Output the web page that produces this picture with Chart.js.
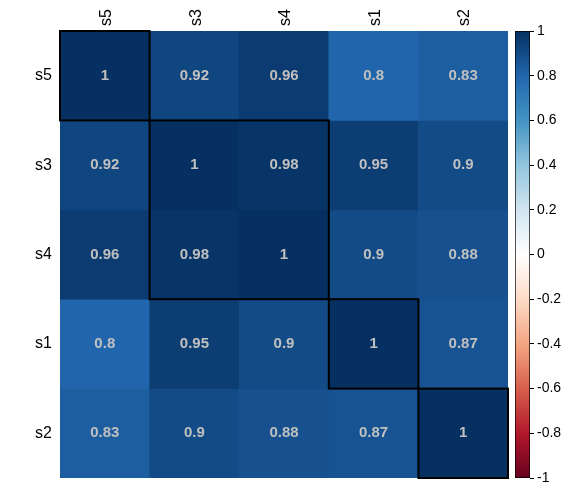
<!DOCTYPE html>
<html>
<head>
<meta charset="utf-8">
<script src="https://cdn.jsdelivr.net/npm/chart.js@4"></script>
<style>
  body { margin: 0; background: #fff; }
  #wrap { position: relative; width: 568px; height: 496px; }
  #heat { position: absolute; left: 0; top: 0; }
  #barra { position: absolute; left: 515px; top: 0; }
</style>
</head>
<body>
<div id="wrap">
  <canvas id="heat" width="568" height="496"></canvas>
  <canvas id="barra" width="53" height="496"></canvas>
</div>
<script>
// variables en el orden del clustering
const variables = ['s5', 's3', 's4', 's1', 's2']

// filas de la matriz de correlacion
const filaS5 = [1, 0.92, 0.96, 0.8, 0.83]
const filaS3 = [0.92, 1, 0.98, 0.95, 0.9]
const filaS4 = [0.96, 0.98, 1, 0.9, 0.88]
const filaS1 = [0.8, 0.95, 0.9, 1, 0.87]
const filaS2 = [0.83, 0.9, 0.88, 0.87, 1]
const filas = [filaS5, filaS3, filaS4, filaS1, filaS2]

// grupos (indice inicio, indice fin)
const grupos = [[0, 0], [1, 2], [3, 3], [4, 4]]

// paleta RdBu de corrplot, de -1 a 1
const paleta = ['#67001F', '#B2182B', '#D6604D', '#F4A582', '#FDDBC7', '#FFFFFF',
  '#D1E5F0', '#92C5DE', '#4393C3', '#2166AC', '#053061']

const hexARgb = h => [1, 3, 5].map(i => parseInt(h.substr(i, 2), 16))

const colorDe = v => {
  const t = (v + 1) / 2 * (paleta.length - 1)
  const i = Math.min(Math.floor(t), paleta.length - 2)
  const f = t - i
  const a = hexARgb(paleta[i])
  const b = hexARgb(paleta[i + 1])
  const c = a.map((x, k) => Math.round(x + (b[k] - x) * f))
  return `rgb(${c[0]},${c[1]},${c[2]})`
}

const fuente = 'Arial, "Liberation Sans", sans-serif'

// plugin: numeros y rectangulos de grupos
const pluginCeldas = {
  id: 'celdas',
  afterDatasetsDraw(chart) {
    const { ctx, scales: { x, y } } = chart
    const ancho = x.width / variables.length
    ctx.save()
    ctx.font = `bold 15px ${fuente}`
    ctx.fillStyle = '#c0c0c0'
    ctx.textAlign = 'center'
    ctx.textBaseline = 'middle'
    filas.forEach((fila, r) => {
      fila.forEach((v, c) => {
        ctx.fillText(String(v), x.getPixelForValue(c), y.getPixelForValue(r + 0.5))
      })
    })
    ctx.strokeStyle = '#000'
    ctx.lineWidth = 2
    grupos.forEach(([a, b]) => {
      const x0 = x.getPixelForValue(a) - ancho / 2
      const x1 = x.getPixelForValue(b) + ancho / 2
      const y0 = y.getPixelForValue(a)
      const y1 = y.getPixelForValue(b + 1)
      ctx.strokeRect(x0, y0, x1 - x0, y1 - y0)
    })
    ctx.restore()
  }
}

new Chart(document.getElementById('heat'), {
  type: 'bar',
  data: {
    labels: variables,
    datasets: filas.map(fila => ({
      data: variables.map(() => 1),
      backgroundColor: fila.map(colorDe),
      borderWidth: 0,
      barPercentage: 1,
      categoryPercentage: 1
    }))
  },
  options: {
    responsive: false,
    animation: false,
    layout: { padding: { left: 0, top: 0, right: 60, bottom: 18 } },
    plugins: { legend: { display: false }, tooltip: { enabled: false } },
    scales: {
      x: {
        position: 'top',
        stacked: true,
        grid: { display: false, drawTicks: false },
        border: { display: false },
        ticks: { color: '#000', font: { size: 16, family: fuente }, minRotation: 90, maxRotation: 90, padding: 5, labelOffset: 21 },
        afterFit: s => { s.height = 31 }
      },
      y: {
        stacked: true,
        reverse: true,
        min: 0,
        max: variables.length,
        grid: { display: false, drawTicks: false },
        border: { display: false },
        afterBuildTicks: s => { s.ticks = variables.map((_, i) => ({ value: i + 0.5 })) },
        ticks: { color: '#000', font: { size: 16, family: fuente }, padding: 8, callback: v => variables[Math.floor(v)] },
        afterFit: s => { s.width = 60 }
      }
    }
  },
  plugins: [pluginCeldas]
})

// barra de colores
new Chart(document.getElementById('barra'), {
  type: 'bar',
  data: {
    labels: [''],
    datasets: [{
      data: [[-1, 1]],
      backgroundColor: ctx => {
        const area = ctx.chart.chartArea
        if (!area) return '#fff'
        const g = ctx.chart.ctx.createLinearGradient(0, area.bottom, 0, area.top)
        paleta.forEach((c, i) => g.addColorStop(i / (paleta.length - 1), c))
        return g
      },
      borderColor: '#000',
      borderWidth: 1,
      borderSkipped: false,
      barPercentage: 1,
      categoryPercentage: 1
    }]
  },
  options: {
    responsive: false,
    animation: false,
    layout: { padding: { left: 0, top: 31, right: 0, bottom: 18 } },
    plugins: { legend: { display: false }, tooltip: { enabled: false } },
    scales: {
      x: { display: false },
      y: {
        position: 'right',
        min: -1,
        max: 1,
        grid: { drawOnChartArea: false, drawTicks: true, tickLength: 4, color: '#000' },
        border: { display: false },
        ticks: {
          stepSize: 0.2,
          color: '#000',
          font: { size: 14, family: fuente },
          padding: 3,
          callback: v => String(Number(v.toFixed(1)))
        },
        afterFit: s => { s.width = 38 }
      }
    }
  }
})
</script>
</body>
</html>
